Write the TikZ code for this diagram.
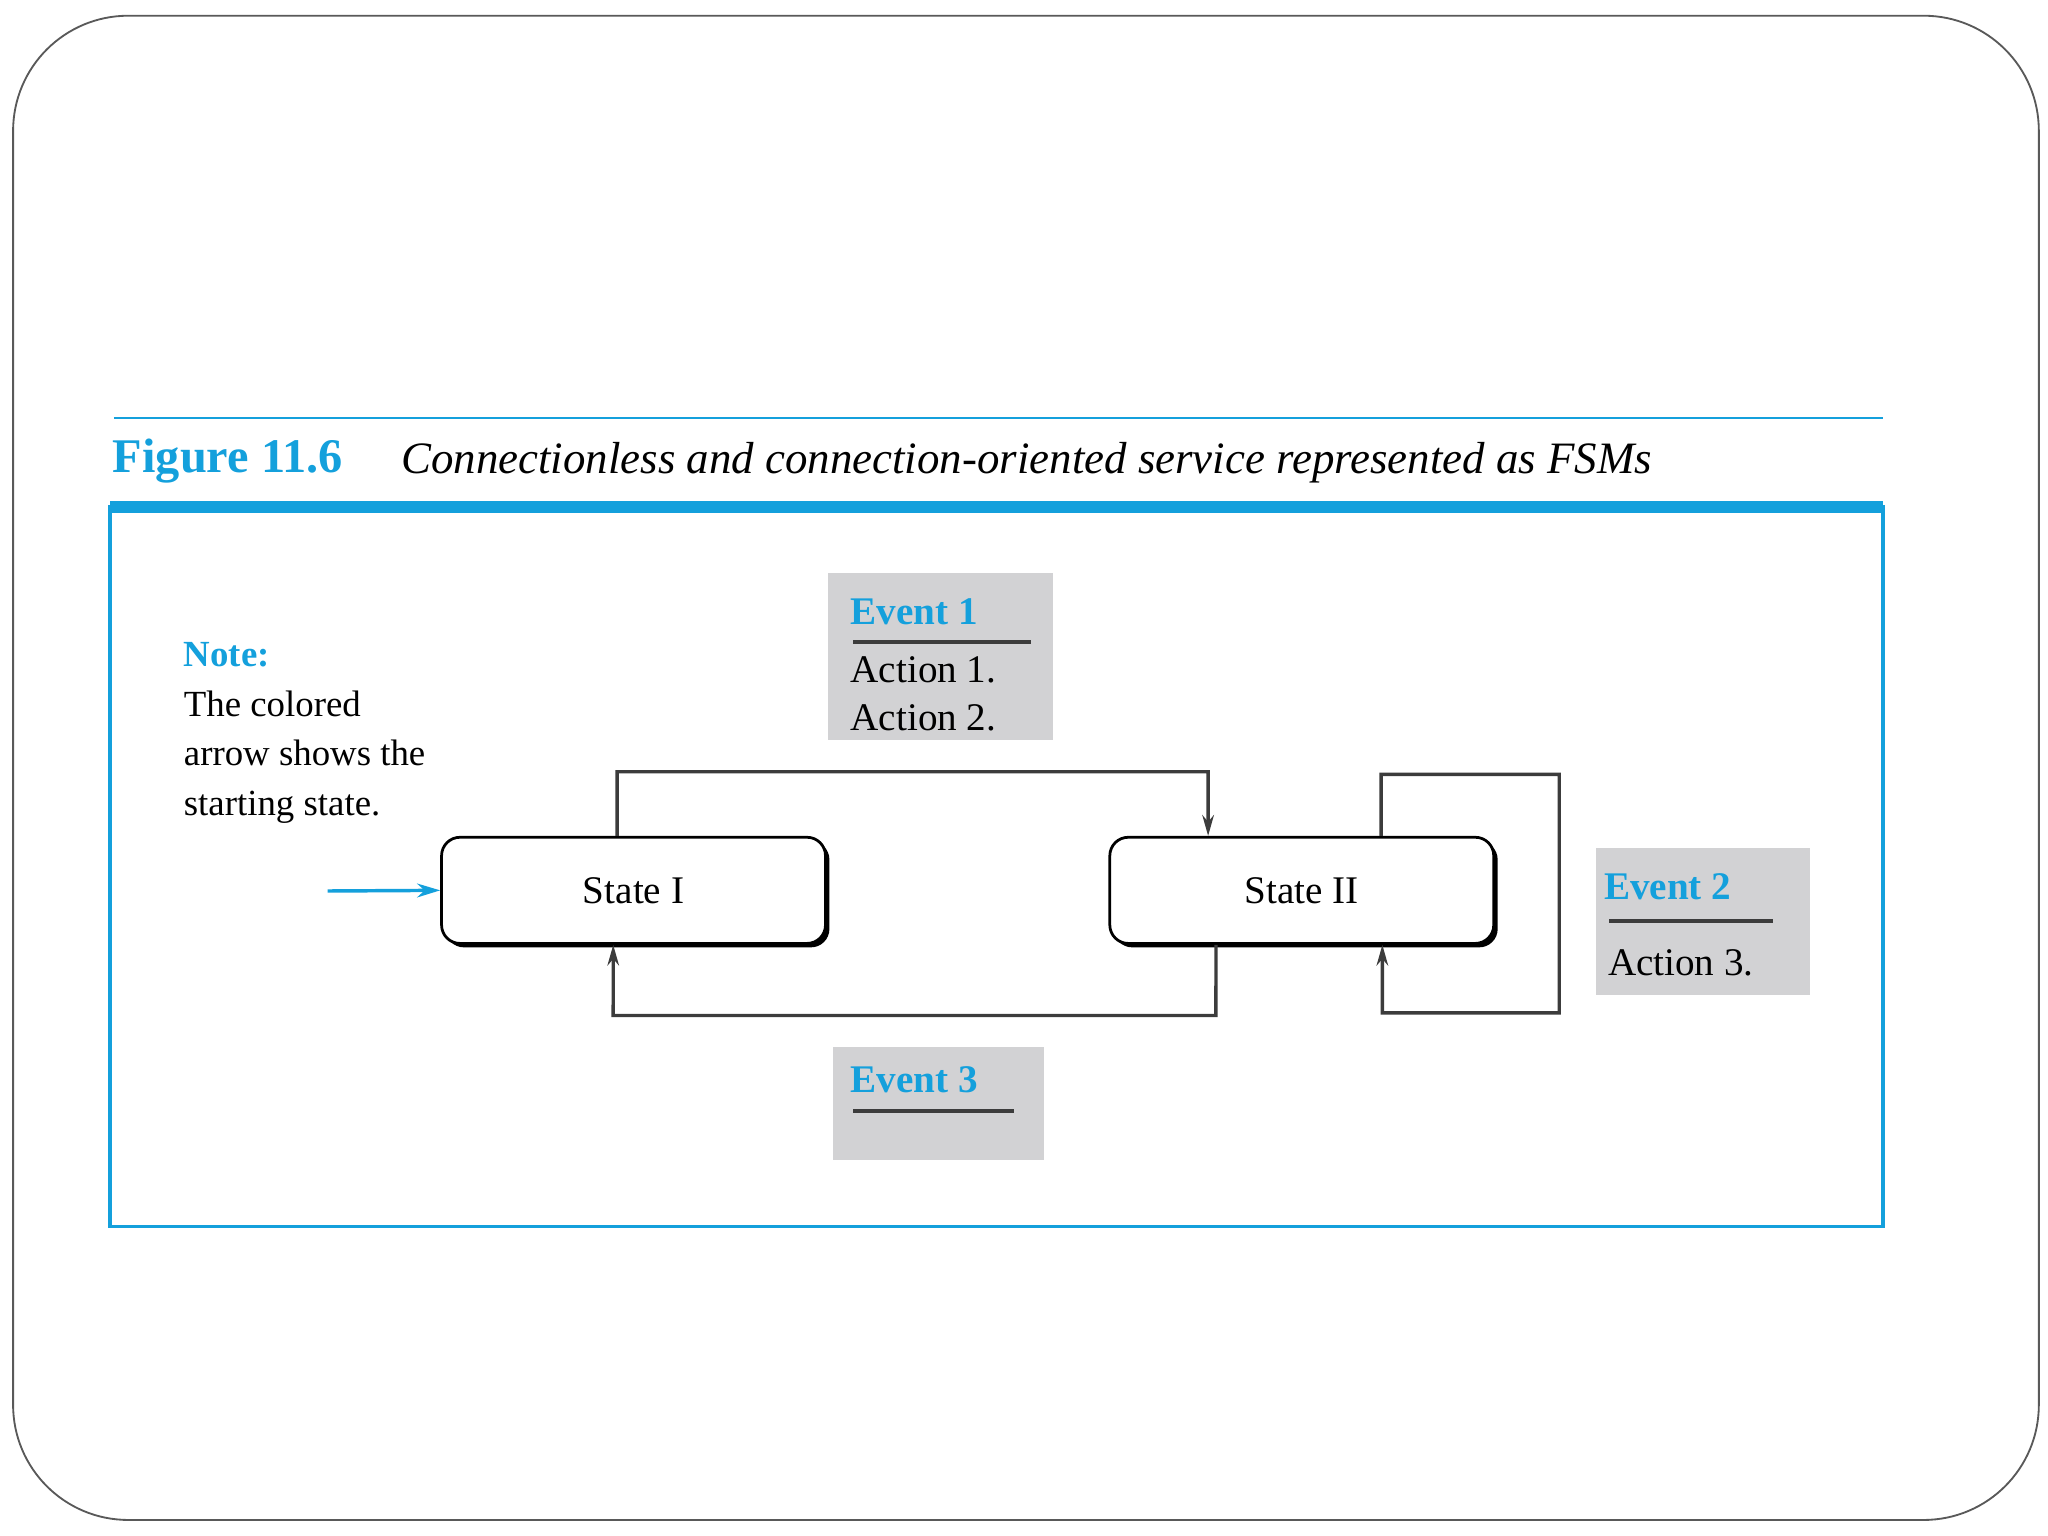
\documentclass[tikz,border=0pt]{standalone}
\usepackage{fontspec}
\setmainfont{Liberation Serif}
\usetikzlibrary{arrows.meta}
\definecolor{cy}{RGB}{20,160,220}
\definecolor{gb}{RGB}{210,210,212}
\definecolor{ln}{RGB}{60,60,60}
\begin{document}
\begin{tikzpicture}[x=0.02cm,y=-0.02cm,
  st/.style={draw=black,line width=1.2pt,rounded corners=8pt,minimum width=293*0.02cm,minimum height=81*0.02cm,font=\fontsize{17}{20}\selectfont,fill=white},
  con/.style={draw=ln,line width=1.5pt},
  arr/.style={con,-{Stealth[length=9pt,width=5pt]}},
  ev/.style={text=cy,font=\fontsize{17}{20}\selectfont\bfseries,anchor=west},
  ac/.style={font=\fontsize{17}{20}\selectfont,anchor=west},
  rule/.style={draw=ln,line width=1.5pt}]
\useasboundingbox (0,0) rectangle (1563,1172);
\draw[gray!70!black,line width=0.8pt,rounded corners=50] (10,12) rectangle (1556,1160);
\draw[cy,line width=1.2pt] (87,319) -- (1437,319);
\node[anchor=west,text=cy,font=\fontsize{21}{24}\selectfont\bfseries] (fig) at (80,352) {Figure 11.6};
\node[anchor=west,font=\fontsize{19.5}{23}\selectfont\itshape] (cap) at (300,353) {Connectionless and connection-oriented service represented as FSMs};
\draw[cy,line width=1.4pt] (84,387) rectangle (1437,936);
\draw[cy,line width=5pt] (84,387) -- (1437,387);
\node[anchor=north west,align=left,font=\fontsize{16}{21.5}\selectfont,inner sep=0] (note) at (140,490)
 {\textcolor{cy}{\textbf{Note:}}\\The colored\\arrow shows the\\starting state.};
\fill[gb] (632,437) rectangle (804,565);
\fill[gb] (1218,647) rectangle (1381,759);
\fill[gb] (636,799) rectangle (797,885);
\node[ev] (e1) at (643,467) {Event 1};
\draw[rule] (651,490) -- (787,490);
\node[ac] (a1) at (643,511) {Action 1.};
\node[ac] (a2) at (643,548) {Action 2.};
\node[ev] (e2) at (1218,677) {Event 2};
\draw[rule] (1228,703) -- (1353,703);
\node[ac] (a3) at (1221,735) {Action 3.};
\node[ev] (e3) at (643,824) {Event 3};
\draw[rule] (651,848) -- (774,848);
\fill[black,rounded corners=8pt] (340,642) rectangle (633,723);
\node[st] (s1) at (483.5,679.5) {State I};
\fill[black,rounded corners=8pt] (850,642) rectangle (1143,723);
\node[st] (s2) at (993.5,679.5) {State II};
\coordinate (start) at (250,680);
\draw[cy,line width=1.5pt,-{Stealth[length=10pt,width=6pt]}] (start) -- (s1.west);
\draw[arr] ([xshift=-0.25cm]s1.north) -- (471,589) -- (922,589) -- ([xshift=-1.43cm]s2.north);
\draw[arr] ([xshift=-1.31cm]s2.south) -- (928,775) -- (468,775) -- ([xshift=-0.31cm]s1.south);
\draw[arr] ([xshift=1.21cm]s2.north) -- (1054,591) -- (1190,591) -- (1190,773) -- (1055,773) -- ([xshift=1.23cm]s2.south);
\end{tikzpicture}
\end{document}
